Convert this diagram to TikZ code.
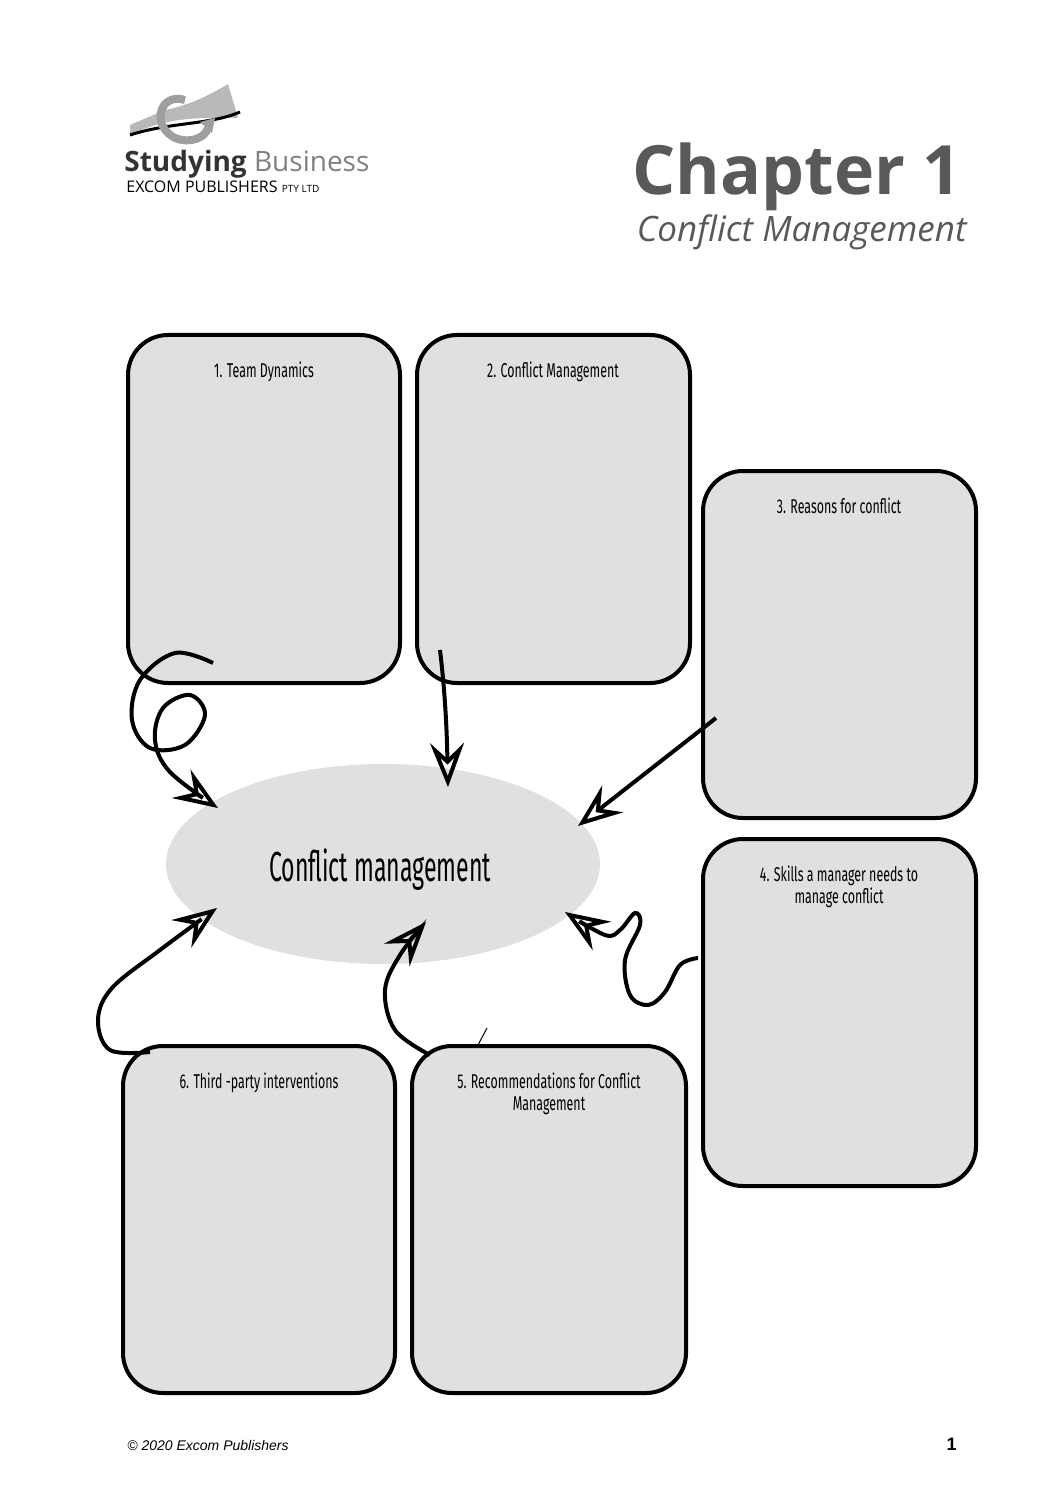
\documentclass[tikz,border=0pt]{standalone}
\usepackage{fontspec}
\setmainfont{Open Sans}
\newfontfamily\hand{Fira Sans}[FakeStretch=0.62]
\newfontfamily\handc{Fira Sans}[FakeStretch=0.55]
\newfontfamily\foot{Liberation Sans}
\usetikzlibrary{arrows.meta}
\definecolor{boxgray}{HTML}{E0E0E0}
\definecolor{titlegray}{HTML}{595959}
\begin{document}
\begin{tikzpicture}[x=0.5pt,y=-0.5pt,
  box/.style={draw=black,line width=2pt,fill=boxgray,rounded corners=20pt},
  lab/.style={font=\hand\fontsize{10}{11}\selectfont,align=center,anchor=north},
  arr/.style={line width=2pt,-{Stealth[open,length=22pt,width=17pt,inset=8pt,line width=2pt]}},
]
\useasboundingbox (0,0) rectangle (1059,1497);
% logo
\fill[gray!55] (130,135) .. controls (170,115) and (210,118) .. (238,118) -- (228,84) .. controls (210,95) and (190,105) .. (165,110) -- (130,125) -- cycle;
\draw[black,line width=1.5pt] (130,135) .. controls (170,122) and (210,125) .. (240,112);
\draw[gray!75,line width=4pt] (185,100) .. controls (160,92) and (150,125) .. (175,138) .. controls (190,144) and (205,138) .. (208,128);
\fill[gray!75] (200,122) -- (215,118) -- (212,133) -- cycle;
\node[anchor=base west,font=\bfseries\fontsize{14}{14}\selectfont,inner sep=0] (logo) at (124,172) {\textcolor{black!80}{Studying} \textcolor{gray}{\mdseries Business}};
\node[anchor=base west,font=\fontsize{8}{8}\selectfont,inner sep=0] (logo2) at (126,193) {EXCOM PUBLISHERS {\fontsize{5}{5}\selectfont PTY LTD}};
% title
\node[anchor=base east,font=\bfseries\fontsize{34}{34}\selectfont,text=titlegray,inner sep=0] (ch) at (962,195) {Chapter 1};
\node[anchor=base east,font=\itshape\fontsize{17.5}{17.5}\selectfont,text=titlegray,inner sep=0] (sub) at (967,242) {Conflict Management};
% boxes
\draw[box] (128,335) rectangle (400,683);
\draw[box] (417,335) rectangle (690,683);
\draw[box] (703,471) rectangle (976,818);
\draw[box] (703,839) rectangle (976,1186);
\draw[box] (123,1046) rectangle (395,1393);
\draw[box] (412,1046) rectangle (686,1393);
\node[lab] (l1) at (264,355) {1. Team Dynamics};
\node[lab] (l2) at (553,355) {2. Conflict Management};
\node[lab] (l3) at (839,491) {3. Reasons for conflict};
\node[lab] (l4) at (839,859) {4. Skills a manager needs to\\manage conflict};
\node[lab] (l6) at (259,1066) {6. Third -party interventions};
\node[lab] (l5) at (549,1066) {5. Recommendations for Conflict\\Management};
% ellipse
\fill[boxgray] (383,864) ellipse [x radius=217,y radius=100];
\node[font=\handc\fontsize{21}{21}\selectfont] (c) at (380,870) {Conflict management};
% arrows
\draw[arr] plot[smooth,tension=0.6] coordinates {(213,663) (175,653) (140,680) (132,720) (150,748) (185,745) (205,715) (190,695) (163,708) (155,740) (170,772) (218,808)};
\draw[arr] (440,650) .. controls (446,700) and (447,740) .. (448,787);
\draw[arr] (716,718) -- (578,826);
\draw[arr] plot[smooth,tension=0.6] coordinates {(698,958) (680,965) (665,992) (648,1005) (630,995) (625,960) (640,925) (635,913) (620,930) (605,935) (565,912)};
\draw[arr] plot[smooth,tension=0.6] coordinates {(430,1055) (395,1030) (385,990) (400,955) (426,922)};
\draw[arr] plot[smooth,tension=0.6] coordinates {(150,1052) (110,1050) (98,1020) (112,988) (160,950) (217,908)};
\draw[line width=0.5pt] (487,1028) -- (478,1045);
% footer
\node[anchor=base west,font=\foot\itshape\fontsize{7}{7}\selectfont,inner sep=0] (f) at (127,1450) {© 2020 Excom Publishers};
\node[anchor=base east,font=\foot\bfseries\fontsize{9}{9}\selectfont,inner sep=0] (p) at (957,1450) {1};
\end{tikzpicture}
\end{document}
